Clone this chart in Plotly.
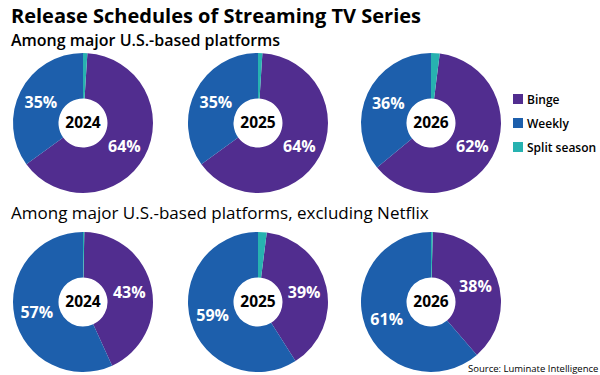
import plotly.graph_objects as go

categories = ["Binge", "Weekly", "Split season"]
years = ["2024", "2025", "2026"]
all_platforms = {
    "2024": [64, 35, 1],
    "2025": [64, 35, 1],
    "2026": [62, 36, 2],
}
excl_netflix = {
    "2024": [43, 57, 0.3],
    "2025": [39, 59, 2],
    "2026": [38, 61, 0.4],
}
labels_all = {"2024": ["64%", "35%", ""], "2025": ["64%", "35%", ""], "2026": ["62%", "36%", ""]}
labels_excl = {"2024": ["43%", "57%", ""], "2025": ["39%", "59%", ""], "2026": ["38%", "61%", ""]}

colors = ["#512D8F", "#1D5FAC", "#27B2B0"]
FONT = "Open Sans"
W, H = 600, 375

fig = go.Figure()

centers_x = [83, 258, 431]
rows = [(123, all_platforms, labels_all), (302, excl_netflix, labels_excl)]
R = 70

for cy, data, texts in rows:
    for cx, yr in zip(centers_x, years):
        vals = data[yr]
        tot = sum(vals)
        fig.add_trace(go.Pie(
            labels=categories,
            values=vals,
            text=texts[yr],
            textinfo="text",
            textposition="inside",
            insidetextorientation="horizontal",
            textfont=dict(family=FONT, size=16, color="white", weight="bold"),
            marker=dict(colors=colors, line=dict(width=0)),
            hole=0.35,
            sort=False,
            direction="clockwise",
            rotation=360 * vals[2] / tot,
            domain=dict(x=[(cx - R) / W, (cx + R) / W],
                        y=[(H - cy - R) / H, (H - cy + R) / H]),
            title=dict(text=yr, position="middle center",
                       font=dict(family=FONT, size=15.5, color="black", weight="bold")),
            showlegend=False,
            hoverinfo="label+percent",
        ))

# legend (drawn as keys + labels)
legend_y = [99, 123, 147]
for cat, col, ly in zip(categories, colors, legend_y):
    fig.add_shape(type="rect", xref="paper", yref="paper",
                  x0=513 / W, x1=523 / W, y0=1 - (ly + 5) / H, y1=1 - (ly - 5) / H,
                  fillcolor=col, line=dict(width=0))
    fig.add_annotation(x=525 / W, y=1 - ly / H, xref="paper", yref="paper",
                       xanchor="left", yanchor="middle", text=cat, showarrow=False,
                       font=dict(family=FONT, size=12, color="black", weight=600))

fig.add_annotation(x=9 / W, y=1 - 16 / H, xref="paper", yref="paper", xanchor="left", yanchor="middle",
                   text="Release Schedules of Streaming TV Series", showarrow=False,
                   font=dict(family=FONT, size=20, color="black", weight="bold"))
fig.add_annotation(x=9 / W, y=1 - 40 / H, xref="paper", yref="paper", xanchor="left", yanchor="middle",
                   text="Among major U.S.-based platforms", showarrow=False,
                   font=dict(family=FONT, size=16, color="black", weight=600))
fig.add_annotation(x=9 / W, y=1 - 213 / H, xref="paper", yref="paper", xanchor="left", yanchor="middle",
                   text="Among major U.S.-based platforms, excluding Netflix", showarrow=False,
                   font=dict(family=FONT, size=17, color="black"))
fig.add_annotation(x=1, y=1 - 368 / H, xref="paper", yref="paper", xanchor="right", yanchor="middle",
                   text="Source: Luminate Intelligence", showarrow=False,
                   font=dict(family=FONT, size=9.5, color="black"))

fig.update_layout(
    width=W, height=H,
    margin=dict(l=0, r=0, t=0, b=0),
    paper_bgcolor="white", plot_bgcolor="white",
    showlegend=False,
)

fig.write_html("out.html")
